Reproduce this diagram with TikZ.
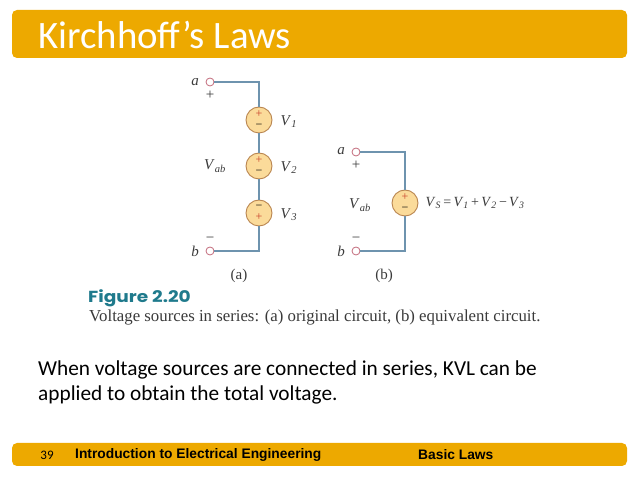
\documentclass[tikz,border=0pt]{standalone}
\usepackage{fontspec}
\setmainfont{Liberation Serif}
\newfontfamily\slidefont{Carlito}
\newfontfamily\footfont{Liberation Sans}
\newfontfamily\figfont[FakeStretch=1.16]{Poppins}
\usetikzlibrary{positioning}
\definecolor{barcol}{HTML}{EDA900}
\definecolor{wirecol}{HTML}{6E93AE}
\definecolor{srcfill}{HTML}{FBDB9A}
\definecolor{srcdraw}{HTML}{B98550}
\definecolor{termcol}{HTML}{C2697A}
\definecolor{figcol}{HTML}{1F7A8C}
\definecolor{pluscol}{HTML}{C8402A}
\definecolor{inkcol}{HTML}{3A3A3A}
\newcommand{\vsub}[2]{\textit{#1}\textsubscript{\textit{#2}}}
\tikzset{
  bar/.style={rectangle, rounded corners=5pt, draw=none, fill=barcol, inner sep=0pt},
  wire/.style={draw=wirecol, line width=1.1pt},
  src/.style={circle, minimum size=26pt, inner sep=0pt, draw=srcdraw, line width=0.9pt, fill=srcfill, align=center, font=\fontsize{12}{11}\selectfont},
  term/.style={circle, minimum size=8pt, inner sep=0pt, draw=termcol, line width=0.8pt, fill=white},
  lbl/.style={text=inkcol, inner sep=0pt, font=\fontsize{15}{17}\selectfont},
  sym/.style={text=inkcol, inner sep=0pt, font=\fontsize{15}{17}\selectfont},
  body/.style={anchor=west, inner sep=0pt, font=\slidefont\fontsize{21.3}{25}\selectfont},
  foot/.style={inner sep=0pt, font=\footfont\bfseries\fontsize{13.8}{15}\selectfont}
}
\begin{document}
\begin{tikzpicture}[x=1pt, y=-1pt]
\useasboundingbox (0,0) rectangle (638,478);
% slide bars
\node[bar, minimum width=615pt, minimum height=48pt] (titlebar) at (319.5,34) {};
\node[bar, minimum width=615pt, minimum height=23pt] (footbar) at (319.5,454.5) {};
\node[anchor=west, inner sep=0pt, text=white, font=\slidefont\fontsize{38.8}{40}\selectfont] (title) at (38,35) {Kirchhoff’s Laws};
% circuit (a)
\node[term] (ta) at (210,82) {};
\node[term] (tb) at (210,251) {};
\node[src] (s1) at (259,120) {\textcolor{pluscol}{+}\\−};
\node[src] (s2) at (259,166) {\textcolor{pluscol}{+}\\−};
\node[src] (s3) at (259,213) {−\\\textcolor{pluscol}{+}};
\draw[wire] (ta) -| (s1);
\draw[wire] (s1) -- (s2);
\draw[wire] (s2) -- (s3);
\draw[wire] (tb) -| (s3);
\node[lbl] (la) at (195,82) {\textit{a}};
\node[lbl] (lb) at (195,251) {\textit{b}};
\node[sym] (pa) at (210,95) {+};
\node[sym] (ma) at (210,240) {−};
\node[lbl] (vab) at (215,166) {\vsub{V}{ab}};
\node[lbl, right=8pt of s1, yshift=-2pt] (v1) {\vsub{V}{1}};
\node[lbl, right=8pt of s2, yshift=-2pt] (v2) {\vsub{V}{2}};
\node[lbl, right=8pt of s3, yshift=-2pt] (v3) {\vsub{V}{3}};
\node[lbl] (capa) at (239,276) {(a)};
% circuit (b)
\node[term] (tc) at (356,152) {};
\node[term] (td) at (356,251) {};
\node[src] (s4) at (405,203) {\textcolor{pluscol}{+}\\−};
\draw[wire] (tc) -| (s4);
\draw[wire] (td) -| (s4);
\node[lbl] (lc) at (341,151) {\textit{a}};
\node[lbl] (ld) at (341,251) {\textit{b}};
\node[sym] (pc) at (356,165) {+};
\node[sym] (mc) at (356,240) {−};
\node[lbl] (vab2) at (360,205) {\vsub{V}{ab}};
\node[lbl, right=7pt of s4, font=\fontsize{14}{16}\selectfont] (vs) {\vsub{V}{S}\,=\,\vsub{V}{1}\,+\,\vsub{V}{2}\,−\,\vsub{V}{3}};
\node[lbl] (capb) at (384,276) {(b)};
% caption
\node[anchor=west, inner sep=0pt, text=figcol, font=\figfont\bfseries\fontsize{16}{18}\selectfont] (figno) at (88,298) {Figure 2.20};
\node[anchor=west, inner sep=0pt, text=inkcol, font=\fontsize{16.8}{19}\selectfont] (figtext) at (89,317) {Voltage sources in series: (a) original circuit, (b) equivalent circuit.};
% body text
\node[body] (line1) at (38,370) {When voltage sources are connected in series, KVL can be};
\node[body] (line2) at (38,395) {applied to obtain the total voltage.};
% footer
\node[inner sep=0pt, font=\slidefont\fontsize{13}{15}\selectfont] (num) at (47,455) {39};
\node[foot, anchor=west] (course) at (75,455) {Introduction to Electrical Engineering};
\node[foot, anchor=west] (topic) at (418,455) {Basic Laws};
\end{tikzpicture}
\end{document}
